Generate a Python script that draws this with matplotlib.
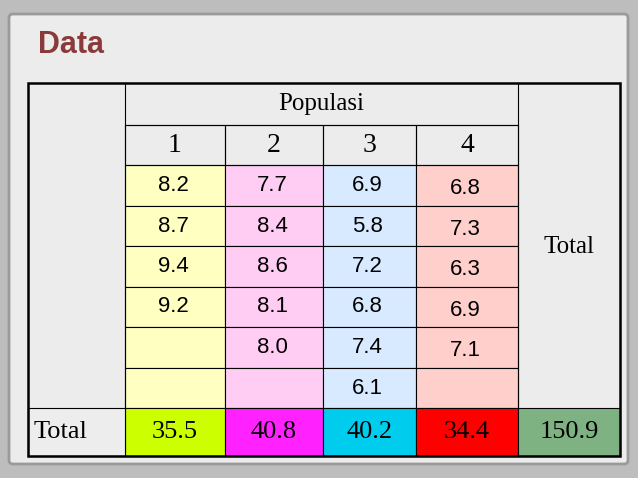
import matplotlib
matplotlib.use("Agg")
import matplotlib.pyplot as plt
from matplotlib.patches import Rectangle, FancyBboxPatch

populations = ["1", "2", "3", "4"]
values = [
    [8.2, 8.7, 9.4, 9.2],
    [7.7, 8.4, 8.6, 8.1, 8.0],
    [6.9, 5.8, 7.2, 6.8, 7.4, 6.1],
    [6.8, 7.3, 6.3, 6.9, 7.1],
]
totals = [35.5, 40.8, 40.2, 34.4]
grand_total = 150.9
cell_colors = ["#FFFFC2", "#FFCCF3", "#D8EAFF", "#FFCFCC"]
total_colors = ["#CCFF00", "#FF22FF", "#00CCEE", "#FF0000"]
grand_color = "#7FB283"

fig = plt.figure(figsize=(6.38, 4.78), dpi=100)
fig.patch.set_facecolor("#BDBDBD")
ax = fig.add_axes([0, 0, 1, 1])
ax.set_xlim(0, 638); ax.set_ylim(478, 0); ax.axis("off")

ax.add_patch(FancyBboxPatch((9, 14), 619, 450, boxstyle="round,pad=0,rounding_size=4",
                            fc="#ECECEC", ec="#9A9A9A", lw=2))
ax.text(38, 45, "Data", color="#8B3A3A", fontsize=22, fontweight="bold",
        family="Liberation Sans", va="center")

xs = [28, 125, 225, 323, 416, 518, 620]
rows = [165, 206, 246, 287, 327, 368, 408]
ytop, yhead, ytot, ybot = 83, 125, 408, 456
serif = "Liberation Serif"

for j in range(4):
    for i in range(6):
        ax.add_patch(Rectangle((xs[j+1], rows[i]), xs[j+2]-xs[j+1], rows[i+1]-rows[i],
                               fc=cell_colors[j], ec="black", lw=0.8))
        if i < len(values[j]):
            dy = 3 if j == 3 else 0
            ax.text((xs[j+1]+xs[j+2])/2 - 2, (rows[i]+rows[i+1])/2 + dy, f"{values[j][i]:.1f}",
                    ha="center", va="center", fontsize=16, family="Liberation Sans")
    ax.add_patch(Rectangle((xs[j+1], ytot), xs[j+2]-xs[j+1], ybot-ytot,
                           fc=total_colors[j], ec="black", lw=0.8))
    ax.text((xs[j+1]+xs[j+2])/2, (ytot+ybot)/2, f"{totals[j]:.1f}",
            ha="center", va="center", fontsize=19, family=serif)
    ax.add_patch(Rectangle((xs[j+1], yhead), xs[j+2]-xs[j+1], rows[0]-yhead,
                           fc="none", ec="black", lw=0.8))
    ax.text((xs[j+1]+xs[j+2])/2, (yhead+rows[0])/2, populations[j],
            ha="center", va="center", fontsize=20, family=serif)

ax.add_patch(Rectangle((xs[0], ytot), xs[1]-xs[0], ybot-ytot, fc="#EDEDED", ec="black", lw=0.8))
ax.text(xs[0]+6, (ytot+ybot)/2, "Total", ha="left", va="center", fontsize=19, family=serif)
ax.add_patch(Rectangle((xs[5], ytot), xs[6]-xs[5], ybot-ytot, fc=grand_color, ec="black", lw=0.8))
ax.text((xs[5]+xs[6])/2, (ytot+ybot)/2, f"{grand_total:.1f}", ha="center", va="center",
        fontsize=19, family=serif)

ax.text((xs[1]+xs[5])/2, (ytop+yhead)/2, "Populasi", ha="center", va="center",
        fontsize=18, family=serif)
ax.text((xs[5]+xs[6])/2, 247, "Total", ha="center", va="center", fontsize=18, family=serif)

ax.plot([xs[1], xs[5]], [yhead, yhead], color="black", lw=0.8)
ax.plot([xs[1], xs[1]], [ytop, ytot], color="black", lw=0.8)
ax.plot([xs[5], xs[5]], [ytop, ytot], color="black", lw=0.8)
ax.add_patch(Rectangle((xs[0], ytop), xs[6]-xs[0], ybot-ytop, fc="none", ec="black", lw=1.8))

fig.savefig("out.png", dpi=100, facecolor=fig.get_facecolor())
